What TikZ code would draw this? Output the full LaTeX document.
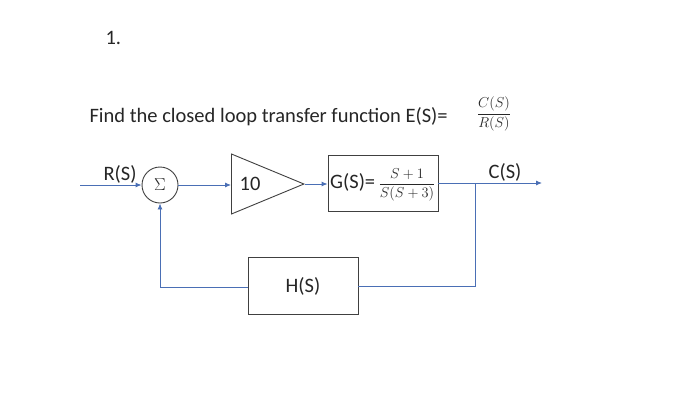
\documentclass[tikz,border=0pt]{standalone}
\usepackage{fontspec}
\setmainfont{Carlito}
\usetikzlibrary{arrows.meta,shapes.geometric}
\definecolor{ln}{HTML}{4A6FB5}
\begin{document}
\begin{tikzpicture}[x=1pt,y=-1pt,
  every node/.style={font=\fontsize{20.5}{24}\selectfont, text=black!85},
  wire/.style={draw=ln, line width=0.9pt},
  arr/.style={wire,-{Latex[length=6pt,width=5pt]}},
  blk/.style={draw=black!75, line width=0.9pt, inner sep=0pt}]
\useasboundingbox[fill=white] (0,0) rectangle (700,412);
\node[anchor=west] (num) at (102,38) {1.};
\node[anchor=west] (q) at (86,117) {Find the closed loop transfer function E(S)=};
\node (fr) at (494,114) {\fontsize{15}{17}\selectfont$\displaystyle\frac{C(S)}{R(S)}$};
\node[blk, circle, minimum size=36pt] (sum) at (160,185) {\fontsize{16}{19}\selectfont$\Sigma$};
\coordinate (in) at (80,185);
\node (r) at (120,174) {R(S)};
\node[blk, isosceles triangle, minimum height=44pt, minimum width=60pt, anchor=west] (k) at (231,184) {};
\node (kt) at (250,184) {10};
\node[blk, minimum width=110pt, minimum height=56pt] (g) at (383,183) {};
\node[anchor=west, inner sep=0pt] (gt) at (330,185) {G(S)=\,\fontsize{15}{17}\selectfont$\displaystyle\frac{S+1}{S(S+3)}$};
\node[blk, minimum width=110pt, minimum height=57pt] (h) at (303,286) {H(S)};
\coordinate (br) at (475,183);
\coordinate (out) at (542,183);
\node (c) at (505,172) {C(S)};
\draw[arr] (in) -- (sum);
\draw[arr] (sum) -- (k.west |- sum);
\draw[arr] (k.apex) -- (g.west |- k.apex);
\draw[arr] (g.east |- br) -- (out);
\draw[wire] (br) |- (h.east |- 0,286);
\draw[arr] (h.west |- 0,287) -| (sum.south);
\end{tikzpicture}
\end{document}
